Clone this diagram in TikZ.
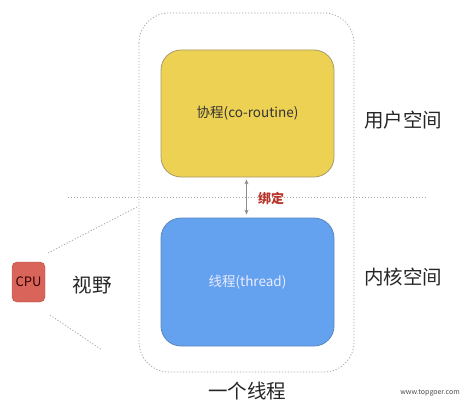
\documentclass[tikz,border=0pt]{standalone}
\usepackage{fontspec}
\setmainfont{Noto Sans CJK SC}
\usetikzlibrary{arrows.meta}
\definecolor{ybox}{HTML}{EDD153}
\definecolor{yedge}{HTML}{A89A6A}
\definecolor{bbox}{HTML}{64A2EF}
\definecolor{bedge}{HTML}{5A86C0}
\definecolor{cbox}{HTML}{D9645A}
\definecolor{cedge}{HTML}{B45048}
\definecolor{dotc}{HTML}{A8A8A8}
\definecolor{bindc}{HTML}{B8342A}
\tikzset{
  px/.style={x=1pt,y=-1pt},
  dotline/.style={draw=dotc,line width=0.8pt,dash pattern=on 1.2pt off 1.8pt},
  boxstyle/.style={rounded corners=20pt,line width=0.8pt},
  bigtxt/.style={font=\fontsize{19.5}{22}\selectfont,text=black!85},
}
\begin{document}
\begin{tikzpicture}[px]
\useasboundingbox (0,0) rectangle (474,404);
% outer dotted rounded rectangle
\draw[dotline,rounded corners=30pt] (139,13) rectangle (354,372);
% horizontal divider
\coordinate (hl) at (68,197);
\coordinate (hr) at (427,197);
\draw[dotline] (hl) -- (hr);
% boxes
\node[boxstyle,draw=yedge,fill=ybox,minimum width=173pt,minimum height=127pt,inner sep=0pt,
  font=\fontsize{13.5}{15}\selectfont,text=black!80] (co) at (247.5,113.5) {协程(co-routine)};
\node[boxstyle,draw=bedge,fill=bbox,minimum width=173pt,minimum height=128pt,inner sep=0pt,
  font=\fontsize{13.5}{15}\selectfont,text=white!92!blue] (th) at (247.5,282) {线程(thread)};
% bind arrow
\draw[{Stealth[length=5pt,width=4pt]}-{Stealth[length=5pt,width=4pt]},draw=gray!90,line width=0.8pt]
  (co.south) ++(-1,2) coordinate (a1) (th.north) ++(-1,-3) coordinate (a2)
  (a1) -- (a2);
\node[font=\fontsize{13}{14}\selectfont\bfseries,text=bindc] (bind) at (271,198) {绑定};
% side labels
\node[bigtxt] (us) at (403,120) {用户空间};
\node[bigtxt] (ks) at (403,277) {内核空间};
\node[bigtxt] (one) at (247,391) {一个线程};
% CPU
\node[draw=cedge,fill=cbox,rounded corners=5pt,minimum width=33pt,minimum height=40pt,inner sep=0pt,
  font=\fontsize{13}{14}\selectfont,text=black!80!red] (cpu) at (28.5,282) {CPU};
\node[bigtxt] (view) at (92,285) {视野};
\coordinate (v1) at (137,207);
\coordinate (v2) at (102,350);
\draw[dotline] (48,253) -- (v1);
\draw[dotline] (50,315) -- (v2);
% watermark
\node[font=\fontsize{7}{8}\selectfont,text=black!70] (wm) at (430,393) {www.topgoer.com};
\end{tikzpicture}
\end{document}
